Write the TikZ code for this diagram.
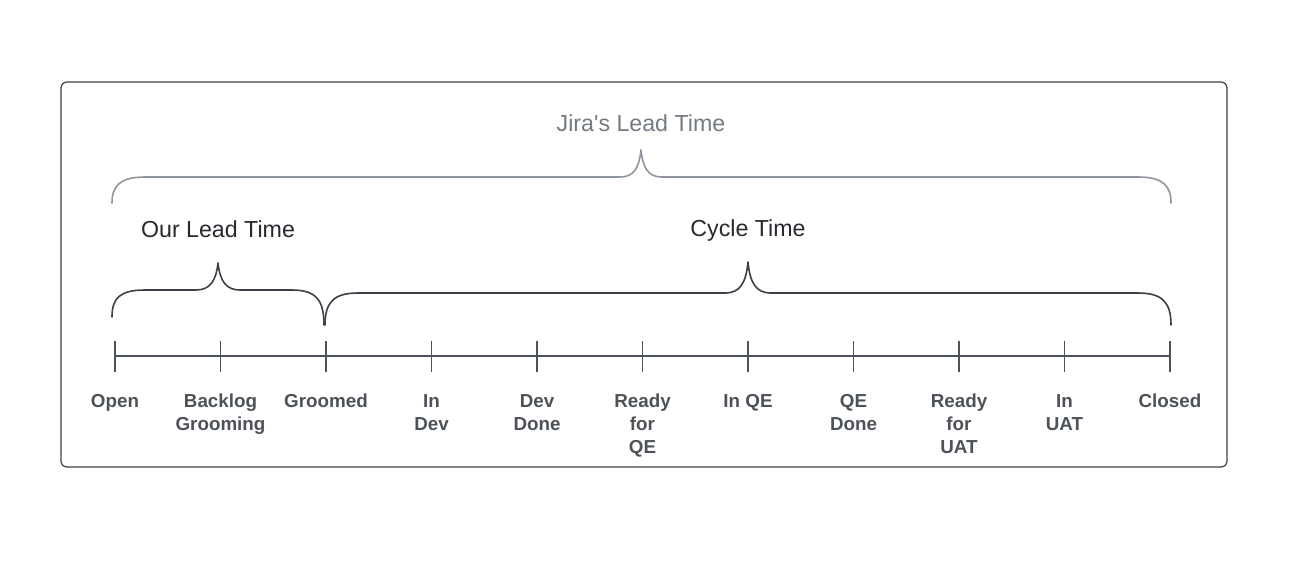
\documentclass[tikz,border=0pt]{standalone}
\usepackage{fontspec}
\setmainfont{Liberation Sans}
\usepackage{xcolor}
\usetikzlibrary{calc,positioning}

\definecolor{framegray}{HTML}{3D434B}
\definecolor{linegray}{HTML}{4B525A}
\definecolor{labelgray}{HTML}{4D5258}
\definecolor{bracedark}{HTML}{3A4048}
\definecolor{jiragray}{HTML}{8F969E}
\definecolor{jiratext}{HTML}{737A83}
\definecolor{titledark}{HTML}{26292E}

\begin{document}
\begin{tikzpicture}[x=0.5pt,y=-0.5pt,
		lbl/.style={anchor=north,inner sep=0pt,align=center,text=labelgray,
			font=\fontsize{9.4}{11.5}\selectfont\bfseries},
		title/.style={anchor=base,inner sep=0pt,font=\fontsize{11.6}{13}\selectfont},
		brace/.style={line width=0.8pt,line join=round,line cap=round}]
		\useasboundingbox (0,0) rectangle (1292,564);
		
		% frame
		\draw[framegray,line width=0.6pt,rounded corners=3pt] (61,82) rectangle (1227,467);
		
		% timeline
		\foreach \i in {0,...,10}
			\coordinate (t\i) at (115+105.5*\i,356);
		\draw[linegray,line width=0.6pt] (t0) -- (t10);
		\foreach \i in {0,...,10}
			\draw[linegray,line width=0.6pt] ($(t\i)+(0,-15)$) -- ($(t\i)+(0,16)$);
		
		% states (first line held at one height)
		\foreach \i/\txt in {0/Open,1/Backlog\\Grooming,2/Groomed,3/In\\Dev,4/Dev\\Done,
				5/Ready\\for\\QE,6/In QE,7/QE\\Done,8/Ready\\for\\UAT,9/In\\UAT,10/Closed}
			\node[lbl] (s\i) at ($(t\i)+(0,36.6)$) {\rule{0pt}{7.2pt}\txt};
		
		% braces
		\draw[brace,jiragray] (112,203) .. controls (112,186) and (120,177) .. (145,177)
			-- (620,177) .. controls (634,177) and (639,168) .. (641,150)
			.. controls (643,168) and (648,177) .. (662,177)
			-- (1138,177) .. controls (1163,177) and (1171,186) .. (1171,203);
		\draw[brace,bracedark] (112,317) .. controls (112,298) and (120,290) .. (145,290)
			-- (196,290) .. controls (210,290) and (216,281) .. (218,263)
			.. controls (220,281) and (226,290) .. (240,290)
			-- (292,290) .. controls (316,290) and (324,300) .. (324,325);
		\draw[brace,bracedark] (325,325) .. controls (325,302) and (334,293) .. (358,293)
			-- (725,293) .. controls (740,293) and (746,283) .. (748,262)
			.. controls (750,283) and (756,293) .. (771,293)
			-- (1138,293) .. controls (1162,293) and (1171,302) .. (1171,325);
		
		% titles
		\node[title,text=jiratext] (jira) at (641,131) {Jira\textquotesingle s Lead Time};
		\node[title,text=titledark] (our) at (218,237) {Our Lead Time};
		\node[title,text=titledark] (cycle) at (748,236) {Cycle Time};
	\end{tikzpicture}
\end{document}
